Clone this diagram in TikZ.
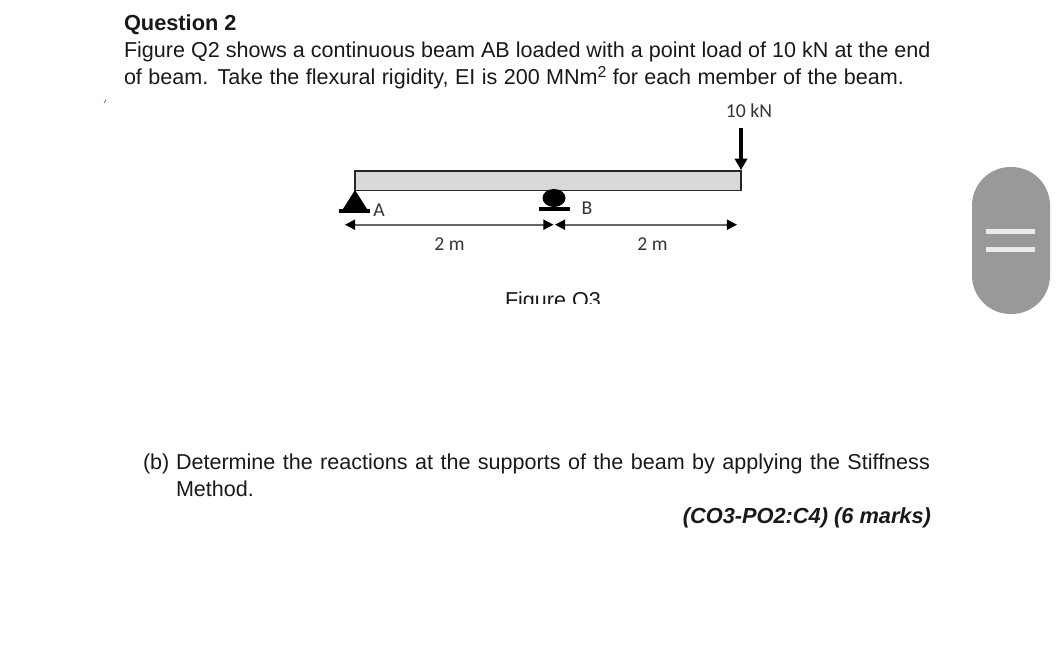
\documentclass[tikz,border=0pt]{standalone}
\usepackage{fontspec}
\usetikzlibrary{arrows.meta}
\setmainfont{Liberation Sans}
\newfontfamily\labelfont{Carlito}
\begin{document}
\begin{tikzpicture}[x=0.02cm, y=-0.02cm, line join=miter,
    every node/.style={inner sep=0pt, outer sep=0pt, text=black!90},
    textline/.style={anchor=base west, font=\fontsize{12.27}{15}\selectfont},
    figlabel/.style={font=\labelfont\fontsize{11.2}{13}\selectfont, text=black!80},
    beambox/.style={draw=black!85, line width=1.1pt, fill=black!15, minimum width=386*0.02cm, minimum height=19.5*0.02cm, anchor=north west},
    base/.style={fill=black, minimum width=31*0.02cm, minimum height=4*0.02cm},
    hinge/.style={fill=black},
    dim/.style={draw=black!60, line width=1pt, {Triangle[black,length=5.7pt,width=5.7pt]}-{Triangle[black,length=5.7pt,width=5.7pt]}},
    load/.style={draw=black, line width=1.8pt, -{Triangle[length=6.5pt,width=7pt]}},
    pill/.style={fill=black!40, rounded corners=38.5*0.02cm},
    pillbar/.style={fill=black!8}]
    \useasboundingbox (0, 0) rectangle (1060, 652);
    \node[textline, font=\bfseries\fontsize{12.4}{15}\selectfont] (title) at (124, 30.5) {Question 2};
    \node[textline] (lineone) at (124, 58) {Figure Q2 shows a continuous beam AB loaded with a point load of 10 kN at the end};
    \node[textline] (linetwo) at (124, 85) {\makebox[15.6cm][s]{of beam. Take the flexural rigidity, EI is 200 MNm\raisebox{0.36em}{\fontsize{9}{10}\selectfont 2} for each member of the beam.}};
    \node[figlabel] (loadtext) at (749, 111) {10 kN};
    \node[beambox] (beam) at (355, 171) {};
    \coordinate (loadtop) at (741, 128);
    \coordinate (loadtip) at (741, 170);
    \draw[load] (loadtop) -- (loadtip);
    \node[base] (basea) at (354.5, 210.5) {};
    \node[base] (baseb) at (554.5, 208.5) {};
    \fill[hinge] (355, 190) -- (367, 209) -- (343, 209) -- cycle;
    \fill[hinge] (554, 198) ellipse (11.5 and 9);
    \node[figlabel] (labela) at (379, 210) {A};
    \node[figlabel] (labelb) at (587, 208.5) {B};
    \coordinate (dima) at (345, 224.7);
    \coordinate (dimb) at (553.5, 224.7);
    \coordinate (dimc) at (555, 224.7);
    \coordinate (dimd) at (737, 224.7);
    \draw[dim] (dima) -- (dimb);
    \draw[dim] (dimc) -- (dimd);
    \node[figlabel] (spanone) at (449.5, 244.5) {2 m};
    \node[figlabel] (spantwo) at (652.5, 244) {2 m};
    \begin{scope}
        \clip (480, 280) rectangle (620, 303);
        \node[textline] (figname) at (505, 307) {Figure Q3};
    \end{scope}
    \node[textline] (partb) at (143, 469) {(b)};
    \node[textline] (linethree) at (176, 469) {\makebox[15.08cm][s]{Determine the reactions at the supports of the beam by applying the Stiffness}};
    \node[textline] (linefour) at (176, 496) {Method.};
    \node[textline, anchor=base east, font=\bfseries\itshape\fontsize{12.4}{15}\selectfont] (marks) at (931, 523) {(CO3-PO2:C4) (6 marks)};
    \fill[pill] (972, 167) rectangle (1050, 314);
    \fill[pillbar] (986, 228.5) rectangle (1035, 233.5);
    \fill[pillbar] (986, 247) rectangle (1035, 252);
    \draw[red!50!black, line width=0.3pt] (104.5, 103) -- (105.5, 100);
\end{tikzpicture}
\end{document}
